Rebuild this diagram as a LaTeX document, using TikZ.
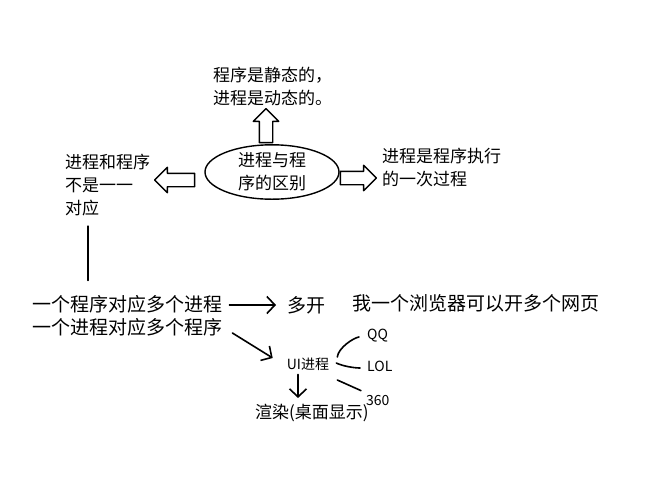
\documentclass[tikz,border=0pt]{standalone}
\usepackage{fontspec}
\newfontfamily\cjk{Noto Sans CJK SC}
\usepackage{tikz}
\usetikzlibrary{arrows.meta,shapes.geometric,shapes.arrows}

\begin{document}
\begin{tikzpicture}[x=1pt,y=-1pt,line cap=round,line join=round,
  txt/.style={font=\cjk\fontsize{17}{23}\selectfont,align=left,inner sep=0pt},
  big/.style={txt,font=\cjk\fontsize{19}{23}\selectfont},
  small/.style={txt,font=\cjk\fontsize{14}{18}\selectfont},
  hollow/.style={draw,line width=1.4pt,single arrow,minimum width=24pt,
    single arrow head extend=6pt,inner sep=6pt},
  pen/.style={line width=1.6pt},
  penarr/.style={pen,-{Straight Barb[length=8pt,width=17pt,line width=1.6pt]}}]
\useasboundingbox (0,0) rectangle (648,485);
% centre
\node[draw,ellipse,line width=1.4pt,minimum width=134pt,minimum height=46pt,
  txt,align=center,inner sep=0pt] (diff) at (272,172) {进程与程\\序的区别};
\node[txt,anchor=west] (static) at (213,87) {程序是静态的，\\进程是动态的。};
\node[txt,anchor=west] (once) at (382,168) {进程是程序执行\\的一次过程};
\node[txt,anchor=west] (notone) at (65,185) {进程和程序\\不是一一\\对应};
% hollow arrows
\node[hollow,rotate=90,minimum height=34pt] (up) at (266,129) {};
\node[hollow,rotate=180,minimum height=40pt] (left) at (178,180) {};
\node[hollow,minimum height=36pt] (right) at (355,178) {};
% lower part
\node[big,anchor=west] (many) at (32,316) {一个程序对应多个进程\\一个进程对应多个程序};
\node[big,anchor=west] (multi) at (287,305) {多开};
\node[big,anchor=west] (browser) at (352,303) {我一个浏览器可以开多个网页};
\node[small,anchor=center] (ui) at (308,364) {UI进程};
\node[small,anchor=west] (qq) at (367,336) {QQ};
\node[small,anchor=west] (lol) at (367,366) {LOL};
\node[small,anchor=west] (n360) at (366,401) {360};
\node[txt,anchor=west] (render) at (255,413) {渲染(桌面显示)};
\coordinate (vx) at (88,0);
\draw[pen] (notone.south -| vx) ++(0,10) -- ([yshift=15pt]many.north -| vx);
\draw[penarr] ([xshift=7pt,yshift=11pt]many.east) -- ([xshift=-11pt]multi.west);
\draw[penarr] ([xshift=10pt,yshift=-17pt]many.east) -- ([xshift=-14pt,yshift=6pt]ui.west);
\draw[penarr] ([xshift=-10pt,yshift=-4pt]ui.south) -- ([xshift=-10pt,yshift=6pt]ui.south |- render.north);
\draw[pen] ([xshift=8pt,yshift=7pt]ui.east) .. controls +(1,-9) and +(-6,1) .. ([xshift=-8pt,yshift=-1pt]qq.west);
\draw[pen] ([xshift=7pt,yshift=1pt]ui.east) .. controls +(6,3) and +(-6,0) .. ([xshift=-7pt,yshift=-2pt]lol.west);
\draw[pen] ([xshift=8pt,yshift=-16pt]ui.east) -- ([xshift=-5pt,yshift=5pt]n360.north west);
\end{tikzpicture}
\end{document}
